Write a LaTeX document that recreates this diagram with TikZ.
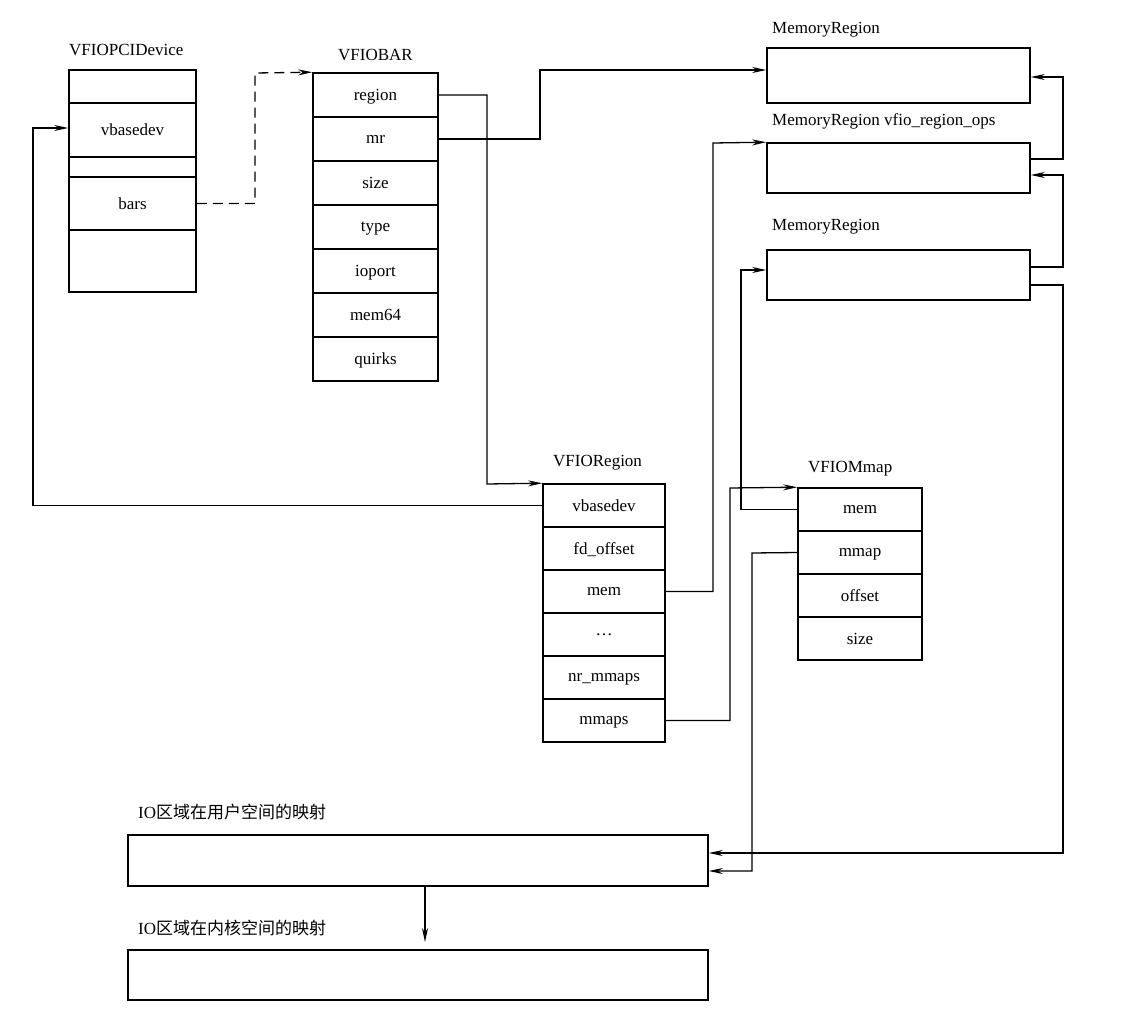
\documentclass[tikz,border=0pt]{standalone}
\usepackage{fontspec}
\setmainfont{Liberation Serif}
\newfontfamily\cjk{Noto Sans CJK SC}
\usetikzlibrary{arrows.meta}
\begin{document}
\begin{tikzpicture}[x=1pt,y=-1pt,
  cell/.style={draw,line width=1.6pt,inner sep=0,text depth=0pt,font=\fontsize{17}{20}\selectfont},
  ttl/.style={anchor=west,inner sep=0,font=\fontsize{17}{20}\selectfont},
  con/.style={line width=1.3pt,-{Stealth[length=14pt,width=6pt]}}]
\useasboundingbox (0,0) rectangle (1144,1030);
% VFIOPCIDevice
\node[ttl] (tdev) at (69,50) {VFIOPCIDevice};
\node[cell,minimum width=127,minimum height=33] (d1) at (132.5,86.5) {};
\node[cell,minimum width=127,minimum height=54] (d2) at (132.5,130) {vbasedev};
\node[cell,minimum width=127,minimum height=20] (d3) at (132.5,167) {};
\node[cell,minimum width=127,minimum height=53] (d4) at (132.5,203.5) {bars};
\node[cell,minimum width=127,minimum height=62] (d5) at (132.5,261) {};
% VFIOBAR
\node[ttl] (tbar) at (338,55) {VFIOBAR};
\foreach \t [count=\i] in {region,mr,size,type,ioport,mem64,quirks}
  \node[cell,minimum width=125,minimum height=44] (b\i) at (375.5,51+44*\i) {\t};
% MemoryRegions
\node[ttl] (tm1) at (772,30) {MemoryRegion};
\node[cell,minimum width=263,minimum height=55] (m1) at (898.5,75.5) {};
\node[ttl] (tm2) at (772,121) {MemoryRegion vfio\_region\_ops};
\node[cell,minimum width=263,minimum height=50] (m2) at (898.5,168) {};
\node[ttl] (tm3) at (772,227) {MemoryRegion};
\node[cell,minimum width=263,minimum height=50] (m3) at (898.5,275) {};
% VFIORegion
\node[ttl] (treg) at (553,463) {VFIORegion};
\foreach \t [count=\i] in {vbasedev,fd\_offset,mem,\dots,nr\_mmaps,mmaps}
  \node[cell,minimum width=122,minimum height=43] (r\i) at (604,462.5+43*\i) {\t};
% VFIOMmap
\node[ttl] (tmm) at (808,469) {VFIOMmap};
\foreach \t [count=\i] in {mem,mmap,offset,size}
  \node[cell,minimum width=124,minimum height=43] (p\i) at (860,466.5+43*\i) {\t};
% IO boxes
\node[ttl] (tu) at (138,812) {IO\cjk 区域在用户空间的映射};
\node[cell,minimum width=580,minimum height=51] (u) at (418,860.5) {};
\node[ttl] (tk) at (138,928) {IO\cjk 区域在内核空间的映射};
\node[cell,minimum width=580,minimum height=50] (k) at (418,975) {};
% connectors
\coordinate (tipk) at (425,942);
\draw[con,dash pattern=on 10pt off 6pt] (d4.east) -- (255,203.5) -- (255,73) -- (b1.north west);
\draw[con] (b1.east) -- (487,95) -- (487,484) -- (r1.north west);
\draw[con] (b2.east) -- (540,139) -- (540,70) -- (m1.west |- 0,70);
\draw[con] (r1.west) -- (33,505.5) -- (33,128) -- (d2.west |- 0,128);
\draw[con] (r3.east) -- (713,591.5) -- (713,143) -- (m2.north west);
\draw[con] (r6.east) -- (730,720.5) -- (730,488) -- (p1.north west);
\draw[con] (p1.west) -- (741,509.5) -- (741,270) -- (m3.west |- 0,270);
\draw[con] (p2.west) -- (752,553) -- (752,871) -- (u.east |- 0,871);
\draw[con] (m3.east |- 0,285) -- (1063,285) -- (1063,853) -- (u.east |- 0,853);
\draw[con] (m2.east |- 0,159) -- (1063,159) -- (1063,77) -- (m1.east |- 0,77);
\draw[con] (m3.east |- 0,267) -- (1063,267) -- (1063,175) -- (m2.east |- 0,175);
\draw[con] (u.south -| tipk) -- (tipk);
\end{tikzpicture}
\end{document}
